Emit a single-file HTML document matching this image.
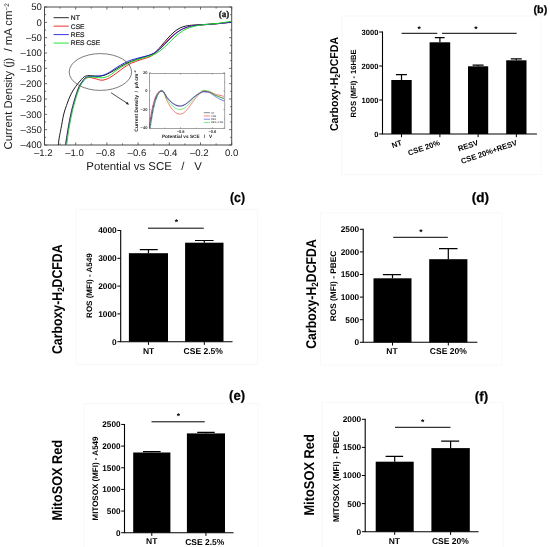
<!DOCTYPE html>
<html lang="en"><head><meta charset="utf-8"><title>Figure</title>
<style>
html,body{margin:0;padding:0;background:#fff;}
body{width:550px;height:547px;overflow:hidden;}
svg{display:block;font-family:"Liberation Sans", Arial, sans-serif;text-rendering:geometricPrecision;}
</style></head><body>
<svg width="550" height="547" viewBox="0 0 550 547">
<rect width="550" height="547" fill="#fff"/>
<g id="pa">
<rect x="44.50" y="7.00" width="187.20" height="138.00" fill="none" stroke="#4a4a4a" stroke-width="1"/>
<path d="M44.50 145.00 v-2.60 M44.50 7.00 v2.60" stroke="#4a4a4a" stroke-width="0.8"/>
<path d="M60.10 145.00 v-1.60 M60.10 7.00 v1.60" stroke="#4a4a4a" stroke-width="0.8"/>
<path d="M75.70 145.00 v-2.60 M75.70 7.00 v2.60" stroke="#4a4a4a" stroke-width="0.8"/>
<path d="M91.30 145.00 v-1.60 M91.30 7.00 v1.60" stroke="#4a4a4a" stroke-width="0.8"/>
<path d="M106.90 145.00 v-2.60 M106.90 7.00 v2.60" stroke="#4a4a4a" stroke-width="0.8"/>
<path d="M122.50 145.00 v-1.60 M122.50 7.00 v1.60" stroke="#4a4a4a" stroke-width="0.8"/>
<path d="M138.10 145.00 v-2.60 M138.10 7.00 v2.60" stroke="#4a4a4a" stroke-width="0.8"/>
<path d="M153.70 145.00 v-1.60 M153.70 7.00 v1.60" stroke="#4a4a4a" stroke-width="0.8"/>
<path d="M169.30 145.00 v-2.60 M169.30 7.00 v2.60" stroke="#4a4a4a" stroke-width="0.8"/>
<path d="M184.90 145.00 v-1.60 M184.90 7.00 v1.60" stroke="#4a4a4a" stroke-width="0.8"/>
<path d="M200.50 145.00 v-2.60 M200.50 7.00 v2.60" stroke="#4a4a4a" stroke-width="0.8"/>
<path d="M216.10 145.00 v-1.60 M216.10 7.00 v1.60" stroke="#4a4a4a" stroke-width="0.8"/>
<path d="M231.70 145.00 v-2.60 M231.70 7.00 v2.60" stroke="#4a4a4a" stroke-width="0.8"/>
<path d="M44.50 7.00 h2.60 M231.70 7.00 h-2.60" stroke="#4a4a4a" stroke-width="0.8"/>
<path d="M44.50 14.67 h1.60 M231.70 14.67 h-1.60" stroke="#4a4a4a" stroke-width="0.8"/>
<path d="M44.50 22.33 h2.60 M231.70 22.33 h-2.60" stroke="#4a4a4a" stroke-width="0.8"/>
<path d="M44.50 30.00 h1.60 M231.70 30.00 h-1.60" stroke="#4a4a4a" stroke-width="0.8"/>
<path d="M44.50 37.67 h2.60 M231.70 37.67 h-2.60" stroke="#4a4a4a" stroke-width="0.8"/>
<path d="M44.50 45.33 h1.60 M231.70 45.33 h-1.60" stroke="#4a4a4a" stroke-width="0.8"/>
<path d="M44.50 53.00 h2.60 M231.70 53.00 h-2.60" stroke="#4a4a4a" stroke-width="0.8"/>
<path d="M44.50 60.67 h1.60 M231.70 60.67 h-1.60" stroke="#4a4a4a" stroke-width="0.8"/>
<path d="M44.50 68.33 h2.60 M231.70 68.33 h-2.60" stroke="#4a4a4a" stroke-width="0.8"/>
<path d="M44.50 76.00 h1.60 M231.70 76.00 h-1.60" stroke="#4a4a4a" stroke-width="0.8"/>
<path d="M44.50 83.67 h2.60 M231.70 83.67 h-2.60" stroke="#4a4a4a" stroke-width="0.8"/>
<path d="M44.50 91.33 h1.60 M231.70 91.33 h-1.60" stroke="#4a4a4a" stroke-width="0.8"/>
<path d="M44.50 99.00 h2.60 M231.70 99.00 h-2.60" stroke="#4a4a4a" stroke-width="0.8"/>
<path d="M44.50 106.67 h1.60 M231.70 106.67 h-1.60" stroke="#4a4a4a" stroke-width="0.8"/>
<path d="M44.50 114.33 h2.60 M231.70 114.33 h-2.60" stroke="#4a4a4a" stroke-width="0.8"/>
<path d="M44.50 122.00 h1.60 M231.70 122.00 h-1.60" stroke="#4a4a4a" stroke-width="0.8"/>
<path d="M44.50 129.67 h2.60 M231.70 129.67 h-2.60" stroke="#4a4a4a" stroke-width="0.8"/>
<path d="M44.50 137.33 h1.60 M231.70 137.33 h-1.60" stroke="#4a4a4a" stroke-width="0.8"/>
<path d="M44.50 145.00 h2.60 M231.70 145.00 h-2.60" stroke="#4a4a4a" stroke-width="0.8"/>
<text x="41.90" y="10.35" text-anchor="end" font-size="9.60" font-weight="normal" fill="#1a1a1a">50</text>
<text x="41.90" y="25.68" text-anchor="end" font-size="9.60" font-weight="normal" fill="#1a1a1a">0</text>
<text x="41.90" y="41.02" text-anchor="end" font-size="9.60" font-weight="normal" fill="#1a1a1a">–50</text>
<text x="41.90" y="56.35" text-anchor="end" font-size="9.60" font-weight="normal" fill="#1a1a1a">–100</text>
<text x="41.90" y="71.68" text-anchor="end" font-size="9.60" font-weight="normal" fill="#1a1a1a">–150</text>
<text x="41.90" y="87.02" text-anchor="end" font-size="9.60" font-weight="normal" fill="#1a1a1a">–200</text>
<text x="41.90" y="102.35" text-anchor="end" font-size="9.60" font-weight="normal" fill="#1a1a1a">–250</text>
<text x="41.90" y="117.68" text-anchor="end" font-size="9.60" font-weight="normal" fill="#1a1a1a">–300</text>
<text x="41.90" y="133.02" text-anchor="end" font-size="9.60" font-weight="normal" fill="#1a1a1a">–350</text>
<text x="41.90" y="148.35" text-anchor="end" font-size="9.60" font-weight="normal" fill="#1a1a1a">–400</text>
<text x="43.30" y="156.30" text-anchor="middle" font-size="9.60" font-weight="normal" fill="#1a1a1a">–1.2</text>
<text x="74.50" y="156.30" text-anchor="middle" font-size="9.60" font-weight="normal" fill="#1a1a1a">–1.0</text>
<text x="105.70" y="156.30" text-anchor="middle" font-size="9.60" font-weight="normal" fill="#1a1a1a">–0.8</text>
<text x="136.90" y="156.30" text-anchor="middle" font-size="9.60" font-weight="normal" fill="#1a1a1a">–0.6</text>
<text x="168.10" y="156.30" text-anchor="middle" font-size="9.60" font-weight="normal" fill="#1a1a1a">–0.4</text>
<text x="199.30" y="156.30" text-anchor="middle" font-size="9.60" font-weight="normal" fill="#1a1a1a">–0.2</text>
<text x="231.70" y="156.30" text-anchor="middle" font-size="9.60" font-weight="normal" fill="#1a1a1a">0.0</text>
<text x="86.30" y="169.80" text-anchor="start" font-size="11.40" font-weight="normal" fill="#1a1a1a">Potential vs SCE</text>
<text x="182.80" y="169.80" text-anchor="middle" font-size="11.40" font-weight="normal" fill="#1a1a1a">/</text>
<text x="198.00" y="169.80" text-anchor="middle" font-size="11.40" font-weight="normal" fill="#1a1a1a">V</text>
<text transform="translate(12.40 76.30) rotate(-90)" text-anchor="middle" font-size="11.30" font-weight="normal" fill="#1a1a1a">Current Density (j)&#160;&#160;/ mA cm<tspan font-size="6.5" dy="-3.6">−2</tspan></text>
<path d="M58.30 145.00 C58.45 143.80 58.75 140.53 59.20 137.80 C59.65 135.07 60.23 132.57 61.00 128.60 C61.77 124.63 62.73 118.27 63.80 114.00 C64.87 109.73 66.18 106.35 67.40 103.00 C68.62 99.65 69.73 96.63 71.10 93.90 C72.47 91.17 74.23 88.58 75.60 86.60 C76.97 84.62 78.07 83.47 79.30 82.00 C80.53 80.53 81.93 78.78 83.00 77.80 C84.07 76.82 84.48 76.47 85.70 76.10 C86.92 75.73 88.78 75.62 90.30 75.60 C91.82 75.58 93.13 75.92 94.80 76.00 C96.47 76.08 98.47 76.32 100.30 76.10 C102.13 75.88 103.67 75.55 105.80 74.70 C107.93 73.85 110.67 72.37 113.10 71.00 C115.53 69.63 117.95 67.87 120.40 66.50 C122.85 65.13 125.37 63.88 127.80 62.80 C130.23 61.72 132.97 60.77 135.00 60.00 C137.03 59.23 137.50 59.03 140.00 58.20 C142.50 57.37 147.33 56.10 150.00 55.00 C152.67 53.90 154.00 53.27 156.00 51.60 C158.00 49.93 160.00 47.27 162.00 45.00 C164.00 42.73 166.00 40.17 168.00 38.00 C170.00 35.83 172.00 33.67 174.00 32.00 C176.00 30.33 178.00 29.00 180.00 28.00 C182.00 27.00 183.67 26.50 186.00 26.00 C188.33 25.50 190.67 25.27 194.00 25.00 C197.33 24.73 202.00 24.63 206.00 24.40 C210.00 24.17 213.83 24.00 218.00 23.60 C222.17 23.20 228.83 22.27 231.00 22.00" fill="none" stroke="#111" stroke-width="0.95"/>
<path d="M65.40 145.00 C65.83 142.27 67.10 133.77 68.00 128.60 C68.90 123.43 69.88 118.27 70.80 114.00 C71.72 109.73 72.58 106.35 73.50 103.00 C74.42 99.65 75.38 96.63 76.30 93.90 C77.22 91.17 78.08 88.53 79.00 86.60 C79.92 84.67 80.83 83.60 81.80 82.30 C82.77 81.00 83.53 79.62 84.80 78.80 C86.07 77.98 87.70 77.43 89.40 77.40 C91.10 77.37 92.87 78.13 95.00 78.60 C97.13 79.07 99.78 80.33 102.20 80.20 C104.62 80.07 107.07 79.02 109.50 77.80 C111.93 76.58 114.37 74.63 116.80 72.90 C119.23 71.17 121.67 69.02 124.10 67.40 C126.53 65.78 128.75 64.43 131.40 63.20 C134.05 61.97 136.90 61.10 140.00 60.00 C143.10 58.90 147.33 57.87 150.00 56.60 C152.67 55.33 154.00 54.10 156.00 52.40 C158.00 50.70 160.00 48.47 162.00 46.40 C164.00 44.33 166.00 42.00 168.00 40.00 C170.00 38.00 172.00 36.00 174.00 34.40 C176.00 32.80 178.00 31.53 180.00 30.40 C182.00 29.27 183.67 28.40 186.00 27.60 C188.33 26.80 190.67 26.10 194.00 25.60 C197.33 25.10 202.00 24.93 206.00 24.60 C210.00 24.27 213.83 24.00 218.00 23.60 C222.17 23.20 228.83 22.43 231.00 22.20" fill="none" stroke="#f01818" stroke-width="0.95"/>
<path d="M65.80 145.00 C66.22 142.27 67.42 133.77 68.30 128.60 C69.18 123.43 70.18 118.27 71.10 114.00 C72.02 109.73 72.88 106.35 73.80 103.00 C74.72 99.65 75.68 96.63 76.60 93.90 C77.52 91.17 78.40 88.58 79.30 86.60 C80.20 84.62 81.08 83.38 82.00 82.00 C82.92 80.62 83.88 79.15 84.80 78.30 C85.72 77.45 86.13 77.20 87.50 76.90 C88.87 76.60 91.17 76.63 93.00 76.50 C94.83 76.37 96.67 76.35 98.50 76.10 C100.33 75.85 102.17 75.63 104.00 75.00 C105.83 74.37 107.37 73.57 109.50 72.30 C111.63 71.03 114.37 68.92 116.80 67.40 C119.23 65.88 121.67 64.43 124.10 63.20 C126.53 61.97 128.75 60.93 131.40 60.00 C134.05 59.07 136.90 58.43 140.00 57.60 C143.10 56.77 147.33 55.93 150.00 55.00 C152.67 54.07 154.00 53.33 156.00 52.00 C158.00 50.67 160.00 48.83 162.00 47.00 C164.00 45.17 166.00 43.00 168.00 41.00 C170.00 39.00 172.00 36.77 174.00 35.00 C176.00 33.23 178.00 31.63 180.00 30.40 C182.00 29.17 183.67 28.40 186.00 27.60 C188.33 26.80 190.67 26.10 194.00 25.60 C197.33 25.10 202.00 24.93 206.00 24.60 C210.00 24.27 213.83 23.97 218.00 23.60 C222.17 23.23 228.83 22.60 231.00 22.40" fill="none" stroke="#2020e0" stroke-width="0.95"/>
<path d="M66.60 145.00 C67.00 142.27 68.13 133.77 69.00 128.60 C69.87 123.43 70.88 118.27 71.80 114.00 C72.72 109.73 73.58 106.35 74.50 103.00 C75.42 99.65 76.38 96.63 77.30 93.90 C78.22 91.17 79.08 88.55 80.00 86.60 C80.92 84.65 81.87 83.53 82.80 82.20 C83.73 80.87 84.50 79.47 85.60 78.60 C86.70 77.73 87.83 77.23 89.40 77.00 C90.97 76.77 92.87 77.07 95.00 77.20 C97.13 77.33 99.78 78.07 102.20 77.80 C104.62 77.53 107.07 76.88 109.50 75.60 C111.93 74.32 114.37 71.78 116.80 70.10 C119.23 68.42 121.67 66.87 124.10 65.50 C126.53 64.13 128.75 62.98 131.40 61.90 C134.05 60.82 136.90 59.98 140.00 59.00 C143.10 58.02 147.33 56.90 150.00 56.00 C152.67 55.10 154.00 54.73 156.00 53.60 C158.00 52.47 160.00 50.83 162.00 49.20 C164.00 47.57 166.00 45.70 168.00 43.80 C170.00 41.90 172.00 39.63 174.00 37.80 C176.00 35.97 178.00 34.23 180.00 32.80 C182.00 31.37 183.67 30.27 186.00 29.20 C188.33 28.13 190.67 27.20 194.00 26.40 C197.33 25.60 202.00 24.90 206.00 24.40 C210.00 23.90 213.83 23.93 218.00 23.40 C222.17 22.87 228.83 21.57 231.00 21.20" fill="none" stroke="#10e020" stroke-width="0.95"/>
<path d="M53.6 17.70 H68.8" stroke="#111" stroke-width="0.9"/>
<text x="70.80" y="20.10" text-anchor="start" font-size="6.70" font-weight="normal" fill="#1a1a1a" stroke="#1a1a1a" stroke-width="0.2">NT</text>
<path d="M53.6 26.15 H68.8" stroke="#f01818" stroke-width="0.9"/>
<text x="70.80" y="28.55" text-anchor="start" font-size="6.70" font-weight="normal" fill="#1a1a1a" stroke="#1a1a1a" stroke-width="0.2">CSE</text>
<path d="M53.6 34.60 H68.8" stroke="#2020e0" stroke-width="0.9"/>
<text x="70.80" y="37.00" text-anchor="start" font-size="6.70" font-weight="normal" fill="#1a1a1a" stroke="#1a1a1a" stroke-width="0.2">RES</text>
<path d="M53.6 43.05 H68.8" stroke="#10e020" stroke-width="0.9"/>
<text x="70.80" y="45.45" text-anchor="start" font-size="6.70" font-weight="normal" fill="#1a1a1a" stroke="#1a1a1a" stroke-width="0.2">RES CSE</text>
<ellipse cx="100.4" cy="72" rx="31.2" ry="18.4" fill="none" stroke="#444" stroke-width="0.7"/>
<path d="M111 92.7 L127.6 103.6" stroke="#222" stroke-width="0.8"/><path d="M129.2 104.7 l-3.4 -0.7 l1.4 -2.2 z" fill="#222"/>
<text x="223.90" y="17.30" text-anchor="middle" font-size="9.00" font-weight="bold" fill="#1a1a1a" font-family="Liberation Serif, serif" stroke="#1a1a1a" stroke-width="0.35">(a)</text>
<rect x="149.30" y="73.30" width="75.50" height="55.20" fill="#fff" stroke="#666" stroke-width="0.6"/>
<path d="M164.70 128.50 v-0.90 M164.70 73.30 v0.90" stroke="#666" stroke-width="0.5"/>
<path d="M180.60 128.50 v-1.40 M180.60 73.30 v1.40" stroke="#666" stroke-width="0.5"/>
<path d="M196.50 128.50 v-0.90 M196.50 73.30 v0.90" stroke="#666" stroke-width="0.5"/>
<path d="M212.40 128.50 v-1.40 M212.40 73.30 v1.40" stroke="#666" stroke-width="0.5"/>
<path d="M149.30 72.50 h1.40 M224.80 72.50 h-1.40" stroke="#666" stroke-width="0.5"/>
<path d="M149.30 81.75 h0.90 M224.80 81.75 h-0.90" stroke="#666" stroke-width="0.5"/>
<path d="M149.30 91.00 h1.40 M224.80 91.00 h-1.40" stroke="#666" stroke-width="0.5"/>
<path d="M149.30 100.25 h0.90 M224.80 100.25 h-0.90" stroke="#666" stroke-width="0.5"/>
<path d="M149.30 109.50 h1.40 M224.80 109.50 h-1.40" stroke="#666" stroke-width="0.5"/>
<path d="M149.30 118.75 h0.90 M224.80 118.75 h-0.90" stroke="#666" stroke-width="0.5"/>
<path d="M149.30 128.00 h1.40 M224.80 128.00 h-1.40" stroke="#666" stroke-width="0.5"/>
<text x="147.40" y="73.90" text-anchor="end" font-size="4.00" font-weight="bold" fill="#333">20</text>
<text x="147.40" y="92.40" text-anchor="end" font-size="4.00" font-weight="bold" fill="#333">0</text>
<text x="147.40" y="110.90" text-anchor="end" font-size="4.00" font-weight="bold" fill="#333">−20</text>
<text x="147.40" y="129.40" text-anchor="end" font-size="4.00" font-weight="bold" fill="#333">−40</text>
<text x="180.60" y="133.00" text-anchor="middle" font-size="4.00" font-weight="bold" fill="#333">−0.8</text>
<text x="212.40" y="133.00" text-anchor="middle" font-size="4.00" font-weight="bold" fill="#333">−0.6</text>
<text x="187.00" y="138.00" text-anchor="middle" font-size="4.75" font-weight="bold" fill="#222">Potential vs SCE&#160;&#160;&#160;/&#160;&#160;&#160;V</text>
<text transform="translate(137.60 101.00) rotate(-90)" text-anchor="middle" font-size="4.90" font-weight="bold" fill="#222">Current Density&#160;&#160;/&#160;&#160;µA cm<tspan font-size="2.8" dy="-1.4">−2</tspan></text>
<clipPath id="ic"><rect x="149.30" y="73.30" width="75.50" height="55.20"/></clipPath>
<g clip-path="url(#ic)">
<path d="M149.20 128.40 C149.43 127.00 150.07 123.07 150.60 120.00 C151.13 116.93 151.73 113.17 152.40 110.00 C153.07 106.83 153.80 103.58 154.60 101.00 C155.40 98.42 156.37 96.07 157.20 94.50 C158.03 92.93 158.90 92.18 159.60 91.60 C160.30 91.02 160.73 90.93 161.40 91.00 C162.07 91.07 162.67 90.96 163.60 92.00 C164.53 93.04 165.77 95.61 167.00 97.22 C168.23 98.83 169.58 100.40 171.00 101.66 C172.42 102.91 174.00 104.07 175.50 104.76 C177.00 105.45 178.50 105.82 180.00 105.80 C181.50 105.78 183.00 105.36 184.50 104.62 C186.00 103.88 187.42 102.64 189.00 101.36 C190.58 100.08 192.33 98.24 194.00 96.92 C195.67 95.60 197.50 94.34 199.00 93.44 C200.50 92.55 201.75 91.82 203.00 91.54 C204.25 91.26 205.33 91.58 206.50 91.74 C207.67 91.90 208.58 91.91 210.00 92.48 C211.42 93.05 213.33 94.38 215.00 95.14 C216.67 95.91 218.50 96.53 220.00 97.07 C221.50 97.61 223.33 98.18 224.00 98.40" fill="none" stroke="#222" stroke-width="0.75" stroke-dasharray="0.9 0.3"/>
<path d="M148.70 128.40 C148.93 127.00 149.57 123.07 150.10 120.00 C150.63 116.93 151.23 113.17 151.90 110.00 C152.57 106.83 153.30 103.58 154.10 101.00 C154.90 98.42 155.87 96.07 156.70 94.50 C157.53 92.93 158.32 92.18 159.10 91.60 C159.88 91.02 160.65 90.93 161.40 91.00 C162.15 91.07 162.67 90.38 163.60 92.00 C164.53 93.62 165.77 98.10 167.00 100.71 C168.23 103.32 169.58 105.68 171.00 107.65 C172.42 109.62 174.00 111.43 175.50 112.51 C177.00 113.59 178.50 114.16 180.00 114.12 C181.50 114.09 183.00 113.43 184.50 112.28 C186.00 111.12 187.42 109.19 189.00 107.19 C190.58 105.18 192.33 102.39 194.00 100.25 C195.67 98.11 197.50 95.91 199.00 94.38 C200.50 92.85 201.75 91.59 203.00 91.08 C204.25 90.56 205.33 91.12 206.50 91.28 C207.67 91.43 208.58 91.56 210.00 92.02 C211.42 92.48 213.33 93.50 215.00 94.05 C216.67 94.61 218.50 94.96 220.00 95.35 C221.50 95.73 223.33 96.20 224.00 96.36" fill="none" stroke="#f01818" stroke-width="0.75" stroke-dasharray="0.9 0.3"/>
<path d="M150.20 128.40 C150.43 127.00 151.07 123.07 151.60 120.00 C152.13 116.93 152.73 113.17 153.40 110.00 C154.07 106.83 154.80 103.58 155.60 101.00 C156.40 98.42 157.37 96.07 158.20 94.50 C159.03 92.93 160.07 92.18 160.60 91.60 C161.13 91.02 160.90 90.93 161.40 91.00 C161.90 91.07 162.67 90.70 163.60 92.00 C164.53 93.30 165.77 96.72 167.00 98.77 C168.23 100.82 169.58 102.75 171.00 104.32 C172.42 105.89 174.00 107.34 175.50 108.20 C177.00 109.07 178.50 109.53 180.00 109.50 C181.50 109.47 183.00 108.95 184.50 108.02 C186.00 107.10 187.42 105.55 189.00 103.95 C190.58 102.35 192.33 100.15 194.00 98.40 C195.67 96.65 197.50 94.76 199.00 93.45 C200.50 92.14 201.75 90.98 203.00 90.52 C204.25 90.07 205.33 90.57 206.50 90.72 C207.67 90.88 208.58 90.80 210.00 91.46 C211.42 92.13 213.33 93.76 215.00 94.72 C216.67 95.68 218.50 96.54 220.00 97.23 C221.50 97.93 223.33 98.59 224.00 98.86" fill="none" stroke="#10e020" stroke-width="0.75" stroke-dasharray="0.9 0.3"/>
<path d="M149.80 128.40 C150.03 127.00 150.67 123.07 151.20 120.00 C151.73 116.93 152.33 113.17 153.00 110.00 C153.67 106.83 154.40 103.58 155.20 101.00 C156.00 98.42 156.97 96.07 157.80 94.50 C158.63 92.93 159.60 92.18 160.20 91.60 C160.80 91.02 160.83 90.93 161.40 91.00 C161.97 91.07 162.67 90.93 163.60 92.00 C164.53 93.07 165.77 95.75 167.00 97.41 C168.23 99.08 169.58 100.69 171.00 101.99 C172.42 103.29 174.00 104.48 175.50 105.19 C177.00 105.91 178.50 106.29 180.00 106.26 C181.50 106.24 183.00 105.80 184.50 105.04 C186.00 104.28 187.42 103.01 189.00 101.68 C190.58 100.36 192.33 98.44 194.00 97.11 C195.67 95.77 197.50 94.56 199.00 93.69 C200.50 92.83 201.75 92.17 203.00 91.91 C204.25 91.65 205.33 91.95 206.50 92.11 C207.67 92.27 208.58 92.13 210.00 92.85 C211.42 93.57 213.33 95.34 215.00 96.40 C216.67 97.46 218.50 98.45 220.00 99.21 C221.50 99.98 223.33 100.69 224.00 100.99" fill="none" stroke="#2020e0" stroke-width="0.75" stroke-dasharray="0.9 0.3"/>
</g>
<path d="M203.8 112.70 H210" stroke="#222" stroke-width="0.55"/>
<text x="211.00" y="113.60" text-anchor="start" font-size="2.60" font-weight="normal" fill="#333">NT</text>
<path d="M203.8 115.95 H210" stroke="#f01818" stroke-width="0.55"/>
<text x="211.00" y="116.85" text-anchor="start" font-size="2.60" font-weight="normal" fill="#333">CSE</text>
<path d="M203.8 119.20 H210" stroke="#2020e0" stroke-width="0.55"/>
<text x="211.00" y="120.10" text-anchor="start" font-size="2.60" font-weight="normal" fill="#333">RES</text>
<path d="M203.8 122.45 H210" stroke="#10e020" stroke-width="0.55"/>
<text x="211.00" y="123.35" text-anchor="start" font-size="2.60" font-weight="normal" fill="#333">RES+CSE</text>
</g>
<g id="pb">
<rect x="342.00" y="16.00" width="199.00" height="158.50" fill="none" stroke="#f8f8f8" stroke-width="1"/>
<path d="M382.50 32.00 V134.00 H536.40" fill="none" stroke="#000" stroke-width="1.1" stroke-linecap="square"/>
<path d="M382.50 134.00 h-3.3" stroke="#000" stroke-width="1.0"/>
<text x="378.50" y="136.74" text-anchor="end" font-size="7.60" font-weight="bold" fill="#000">0</text>
<path d="M382.50 100.00 h-3.3" stroke="#000" stroke-width="1.0"/>
<text x="378.50" y="102.74" text-anchor="end" font-size="7.60" font-weight="bold" fill="#000">1000</text>
<path d="M382.50 66.00 h-3.3" stroke="#000" stroke-width="1.0"/>
<text x="378.50" y="68.74" text-anchor="end" font-size="7.60" font-weight="bold" fill="#000">2000</text>
<path d="M382.50 32.00 h-3.3" stroke="#000" stroke-width="1.0"/>
<text x="378.50" y="34.74" text-anchor="end" font-size="7.60" font-weight="bold" fill="#000">3000</text>
<rect x="391.30" y="80.00" width="20.40" height="54.00" fill="#000"/>
<path d="M401.50 80.00 V74.60 M395.90 74.60 H406.90" stroke="#000" stroke-width="1.2" fill="none"/>
<path d="M401.50 134.00 v3.2" stroke="#000" stroke-width="1.0"/>
<rect x="429.60" y="42.30" width="20.60" height="91.70" fill="#000"/>
<path d="M439.90 42.30 V37.70 M434.80 37.70 H444.60" stroke="#000" stroke-width="1.2" fill="none"/>
<path d="M439.90 134.00 v3.2" stroke="#000" stroke-width="1.0"/>
<rect x="468.00" y="66.30" width="20.20" height="67.70" fill="#000"/>
<path d="M478.10 66.30 V65.20 M472.60 65.20 H483.60" stroke="#000" stroke-width="1.2" fill="none"/>
<path d="M478.10 134.00 v3.2" stroke="#000" stroke-width="1.0"/>
<rect x="506.20" y="60.30" width="20.30" height="73.70" fill="#000"/>
<path d="M516.35 60.30 V58.80 M510.80 58.80 H521.80" stroke="#000" stroke-width="1.2" fill="none"/>
<path d="M516.35 134.00 v3.2" stroke="#000" stroke-width="1.0"/>
<path d="M401.60 33.30 H437.30" stroke="#000" stroke-width="1.0"/>
<text x="419.20" y="31.50" text-anchor="middle" font-size="8.50" font-weight="bold" fill="#000">*</text>
<path d="M442.00 33.30 H516.70" stroke="#000" stroke-width="1.0"/>
<text x="476.00" y="31.50" text-anchor="middle" font-size="8.50" font-weight="bold" fill="#000">*</text>
<text transform="translate(337.60 84.00) rotate(-90)" text-anchor="middle" font-size="11.40" font-weight="bold" fill="#000" textLength="94.0" lengthAdjust="spacingAndGlyphs">Carboxy-H<tspan font-size="65%" dy="2">2</tspan><tspan dy="-2">DCFDA</tspan></text>
<text transform="translate(355.60 83.40) rotate(-90)" text-anchor="middle" font-size="7.60" font-weight="bold" fill="#000" textLength="68.0" lengthAdjust="spacingAndGlyphs">ROS (MFI) - 16HBE</text>
<text x="540.40" y="13.10" text-anchor="middle" font-size="10.60" font-weight="bold" fill="#000" textLength="13.7" lengthAdjust="spacingAndGlyphs" stroke="#000" stroke-width="0.25">(b)</text>
<text transform="translate(402.40 144.80) rotate(-19.0)" text-anchor="end" font-size="7.70" font-weight="bold">NT</text>
<text transform="translate(440.60 144.80) rotate(-19.0)" text-anchor="end" font-size="7.70" font-weight="bold">CSE 20%</text>
<text transform="translate(478.90 144.80) rotate(-19.0)" text-anchor="end" font-size="7.70" font-weight="bold">RESV</text>
<text transform="translate(517.60 144.80) rotate(-19.0)" text-anchor="end" font-size="7.70" font-weight="bold">CSE 20%+RESV</text>
</g>
<g id="pc">
<rect x="76.20" y="209.30" width="181.30" height="155.20" fill="none" stroke="#f8f8f8" stroke-width="1"/>
<path d="M120.70 230.50 V341.70 H232.00" fill="none" stroke="#000" stroke-width="1.1" stroke-linecap="square"/>
<path d="M120.70 341.70 h-3.3" stroke="#000" stroke-width="1.0"/>
<text x="116.70" y="344.69" text-anchor="end" font-size="8.30" font-weight="bold" fill="#000">0</text>
<path d="M120.70 313.90 h-3.3" stroke="#000" stroke-width="1.0"/>
<text x="116.70" y="316.89" text-anchor="end" font-size="8.30" font-weight="bold" fill="#000">1000</text>
<path d="M120.70 286.10 h-3.3" stroke="#000" stroke-width="1.0"/>
<text x="116.70" y="289.09" text-anchor="end" font-size="8.30" font-weight="bold" fill="#000">2000</text>
<path d="M120.70 258.30 h-3.3" stroke="#000" stroke-width="1.0"/>
<text x="116.70" y="261.29" text-anchor="end" font-size="8.30" font-weight="bold" fill="#000">3000</text>
<path d="M120.70 230.50 h-3.3" stroke="#000" stroke-width="1.0"/>
<text x="116.70" y="233.49" text-anchor="end" font-size="8.30" font-weight="bold" fill="#000">4000</text>
<rect x="128.90" y="253.20" width="39.10" height="88.50" fill="#000"/>
<path d="M148.45 253.20 V249.70 M139.80 249.70 H157.70" stroke="#000" stroke-width="1.2" fill="none"/>
<path d="M148.45 341.70 v3.2" stroke="#000" stroke-width="1.0"/>
<rect x="185.10" y="242.70" width="38.40" height="99.00" fill="#000"/>
<path d="M204.30 242.70 V240.50 M195.00 240.50 H213.60" stroke="#000" stroke-width="1.2" fill="none"/>
<path d="M204.30 341.70 v3.2" stroke="#000" stroke-width="1.0"/>
<path d="M148.00 228.20 H203.80" stroke="#000" stroke-width="1.0"/>
<text x="176.30" y="225.30" text-anchor="middle" font-size="8.50" font-weight="bold" fill="#000">*</text>
<text transform="translate(62.40 299.20) rotate(-90)" text-anchor="middle" font-size="14.20" font-weight="bold" fill="#000" textLength="109.7" lengthAdjust="spacingAndGlyphs">Carboxy-H<tspan font-size="65%" dy="2">2</tspan><tspan dy="-2">DCFDA</tspan></text>
<text transform="translate(91.80 285.60) rotate(-90)" text-anchor="middle" font-size="7.90" font-weight="bold" fill="#000" textLength="64.6" lengthAdjust="spacingAndGlyphs">ROS (MFI) - A549</text>
<text x="237.50" y="202.20" text-anchor="middle" font-size="13.40" font-weight="bold" fill="#000" textLength="15.1" lengthAdjust="spacingAndGlyphs" stroke="#000" stroke-width="0.25">(c)</text>
<text x="148.60" y="353.80" text-anchor="middle" font-size="8.50" font-weight="bold" fill="#000">NT</text>
<text x="203.20" y="353.80" text-anchor="middle" font-size="8.50" font-weight="bold" fill="#000">CSE 2.5%</text>
</g>
<g id="pd">
<rect x="320.40" y="213.00" width="181.60" height="152.10" fill="none" stroke="#f8f8f8" stroke-width="1"/>
<path d="M363.20 229.30 V342.30 H476.80" fill="none" stroke="#000" stroke-width="1.1" stroke-linecap="square"/>
<path d="M363.20 342.30 h-3.3" stroke="#000" stroke-width="1.0"/>
<text x="359.20" y="345.29" text-anchor="end" font-size="8.30" font-weight="bold" fill="#000">0</text>
<path d="M363.20 319.70 h-3.3" stroke="#000" stroke-width="1.0"/>
<text x="359.20" y="322.69" text-anchor="end" font-size="8.30" font-weight="bold" fill="#000">500</text>
<path d="M363.20 297.10 h-3.3" stroke="#000" stroke-width="1.0"/>
<text x="359.20" y="300.09" text-anchor="end" font-size="8.30" font-weight="bold" fill="#000">1000</text>
<path d="M363.20 274.50 h-3.3" stroke="#000" stroke-width="1.0"/>
<text x="359.20" y="277.49" text-anchor="end" font-size="8.30" font-weight="bold" fill="#000">1500</text>
<path d="M363.20 251.90 h-3.3" stroke="#000" stroke-width="1.0"/>
<text x="359.20" y="254.89" text-anchor="end" font-size="8.30" font-weight="bold" fill="#000">2000</text>
<path d="M363.20 229.30 h-3.3" stroke="#000" stroke-width="1.0"/>
<text x="359.20" y="232.29" text-anchor="end" font-size="8.30" font-weight="bold" fill="#000">2500</text>
<rect x="373.50" y="278.30" width="38.00" height="64.00" fill="#000"/>
<path d="M392.50 278.30 V274.60 M382.90 274.60 H400.90" stroke="#000" stroke-width="1.2" fill="none"/>
<path d="M392.50 342.30 v3.2" stroke="#000" stroke-width="1.0"/>
<rect x="429.20" y="259.20" width="38.20" height="83.10" fill="#000"/>
<path d="M448.30 259.20 V248.70 M439.00 248.70 H457.50" stroke="#000" stroke-width="1.2" fill="none"/>
<path d="M448.30 342.30 v3.2" stroke="#000" stroke-width="1.0"/>
<path d="M393.20 237.30 H447.80" stroke="#000" stroke-width="1.0"/>
<text x="420.80" y="235.30" text-anchor="middle" font-size="8.50" font-weight="bold" fill="#000">*</text>
<text transform="translate(316.20 294.00) rotate(-90)" text-anchor="middle" font-size="14.20" font-weight="bold" fill="#000" textLength="109.7" lengthAdjust="spacingAndGlyphs">Carboxy-H<tspan font-size="65%" dy="2">2</tspan><tspan dy="-2">DCFDA</tspan></text>
<text transform="translate(335.60 286.00) rotate(-90)" text-anchor="middle" font-size="8.10" font-weight="bold" fill="#000" textLength="70.5" lengthAdjust="spacingAndGlyphs">ROS (MFI) - PBEC</text>
<text x="480.40" y="202.20" text-anchor="middle" font-size="13.40" font-weight="bold" fill="#000" textLength="17.3" lengthAdjust="spacingAndGlyphs" stroke="#000" stroke-width="0.25">(d)</text>
<text x="392.00" y="354.20" text-anchor="middle" font-size="8.50" font-weight="bold" fill="#000">NT</text>
<text x="448.30" y="354.20" text-anchor="middle" font-size="8.50" font-weight="bold" fill="#000">CSE 20%</text>
</g>
<g id="pe">
<rect x="83.80" y="403.60" width="174.20" height="156.40" fill="none" stroke="#f8f8f8" stroke-width="1"/>
<path d="M124.50 424.45 V532.70 H233.00" fill="none" stroke="#000" stroke-width="1.1" stroke-linecap="square"/>
<path d="M124.50 532.70 h-3.3" stroke="#000" stroke-width="1.0"/>
<text x="120.50" y="535.65" text-anchor="end" font-size="8.20" font-weight="bold" fill="#000">0</text>
<path d="M124.50 511.05 h-3.3" stroke="#000" stroke-width="1.0"/>
<text x="120.50" y="514.00" text-anchor="end" font-size="8.20" font-weight="bold" fill="#000">500</text>
<path d="M124.50 489.40 h-3.3" stroke="#000" stroke-width="1.0"/>
<text x="120.50" y="492.35" text-anchor="end" font-size="8.20" font-weight="bold" fill="#000">1000</text>
<path d="M124.50 467.75 h-3.3" stroke="#000" stroke-width="1.0"/>
<text x="120.50" y="470.70" text-anchor="end" font-size="8.20" font-weight="bold" fill="#000">1500</text>
<path d="M124.50 446.10 h-3.3" stroke="#000" stroke-width="1.0"/>
<text x="120.50" y="449.05" text-anchor="end" font-size="8.20" font-weight="bold" fill="#000">2000</text>
<path d="M124.50 424.45 h-3.3" stroke="#000" stroke-width="1.0"/>
<text x="120.50" y="427.40" text-anchor="end" font-size="8.20" font-weight="bold" fill="#000">2500</text>
<rect x="133.20" y="452.50" width="37.20" height="80.20" fill="#000"/>
<path d="M151.80 452.50 V451.60 M143.00 451.60 H160.60" stroke="#000" stroke-width="1.2" fill="none"/>
<path d="M151.80 532.70 v3.2" stroke="#000" stroke-width="1.0"/>
<rect x="186.90" y="433.40" width="38.10" height="99.30" fill="#000"/>
<path d="M205.95 433.40 V432.30 M197.20 432.30 H214.70" stroke="#000" stroke-width="1.2" fill="none"/>
<path d="M205.95 532.70 v3.2" stroke="#000" stroke-width="1.0"/>
<path d="M151.50 421.80 H204.80" stroke="#000" stroke-width="1.0"/>
<text x="178.50" y="418.90" text-anchor="middle" font-size="8.50" font-weight="bold" fill="#000">*</text>
<text transform="translate(62.20 480.20) rotate(-90)" text-anchor="middle" font-size="14.20" font-weight="bold" fill="#000" textLength="80.7" lengthAdjust="spacingAndGlyphs">MitoSOX Red</text>
<text transform="translate(98.40 478.50) rotate(-90)" text-anchor="middle" font-size="8.00" font-weight="bold" fill="#000" textLength="84.0" lengthAdjust="spacingAndGlyphs">MITOSOX (MFI) - A549</text>
<text x="237.10" y="400.10" text-anchor="middle" font-size="13.40" font-weight="bold" fill="#000" textLength="16.0" lengthAdjust="spacingAndGlyphs" stroke="#000" stroke-width="0.25">(e)</text>
<text x="151.70" y="544.20" text-anchor="middle" font-size="8.50" font-weight="bold" fill="#000">NT</text>
<text x="204.80" y="544.60" text-anchor="middle" font-size="8.50" font-weight="bold" fill="#000">CSE 2.5%</text>
</g>
<g id="pf">
<rect x="322.00" y="402.40" width="181.00" height="157.60" fill="none" stroke="#f8f8f8" stroke-width="1"/>
<path d="M365.20 419.30 V531.70 H478.00" fill="none" stroke="#000" stroke-width="1.1" stroke-linecap="square"/>
<path d="M365.20 531.70 h-3.3" stroke="#000" stroke-width="1.0"/>
<text x="361.20" y="534.69" text-anchor="end" font-size="8.30" font-weight="bold" fill="#000">0</text>
<path d="M365.20 503.60 h-3.3" stroke="#000" stroke-width="1.0"/>
<text x="361.20" y="506.59" text-anchor="end" font-size="8.30" font-weight="bold" fill="#000">500</text>
<path d="M365.20 475.50 h-3.3" stroke="#000" stroke-width="1.0"/>
<text x="361.20" y="478.49" text-anchor="end" font-size="8.30" font-weight="bold" fill="#000">1000</text>
<path d="M365.20 447.40 h-3.3" stroke="#000" stroke-width="1.0"/>
<text x="361.20" y="450.39" text-anchor="end" font-size="8.30" font-weight="bold" fill="#000">1500</text>
<path d="M365.20 419.30 h-3.3" stroke="#000" stroke-width="1.0"/>
<text x="361.20" y="422.29" text-anchor="end" font-size="8.30" font-weight="bold" fill="#000">2000</text>
<rect x="375.70" y="461.70" width="38.00" height="70.00" fill="#000"/>
<path d="M394.70 461.70 V456.30 M385.60 456.30 H403.10" stroke="#000" stroke-width="1.2" fill="none"/>
<path d="M394.70 531.70 v3.2" stroke="#000" stroke-width="1.0"/>
<rect x="431.40" y="448.10" width="38.40" height="83.60" fill="#000"/>
<path d="M450.60 448.10 V441.10 M441.20 441.10 H459.20" stroke="#000" stroke-width="1.2" fill="none"/>
<path d="M450.60 531.70 v3.2" stroke="#000" stroke-width="1.0"/>
<path d="M395.00 427.30 H450.50" stroke="#000" stroke-width="1.0"/>
<text x="422.60" y="425.30" text-anchor="middle" font-size="8.50" font-weight="bold" fill="#000">*</text>
<text transform="translate(314.00 474.90) rotate(-90)" text-anchor="middle" font-size="14.20" font-weight="bold" fill="#000" textLength="81.4" lengthAdjust="spacingAndGlyphs">MitoSOX Red</text>
<text transform="translate(338.60 476.30) rotate(-90)" text-anchor="middle" font-size="8.40" font-weight="bold" fill="#000" textLength="91.4" lengthAdjust="spacingAndGlyphs">MITOSOX (MFI) - PBEC</text>
<text x="481.50" y="401.00" text-anchor="middle" font-size="13.40" font-weight="bold" fill="#000" textLength="13.3" lengthAdjust="spacingAndGlyphs" stroke="#000" stroke-width="0.25">(f)</text>
<text x="394.40" y="543.80" text-anchor="middle" font-size="8.50" font-weight="bold" fill="#000">NT</text>
<text x="450.40" y="543.80" text-anchor="middle" font-size="8.50" font-weight="bold" fill="#000">CSE 20%</text>
</g>
</svg>
</body></html>
